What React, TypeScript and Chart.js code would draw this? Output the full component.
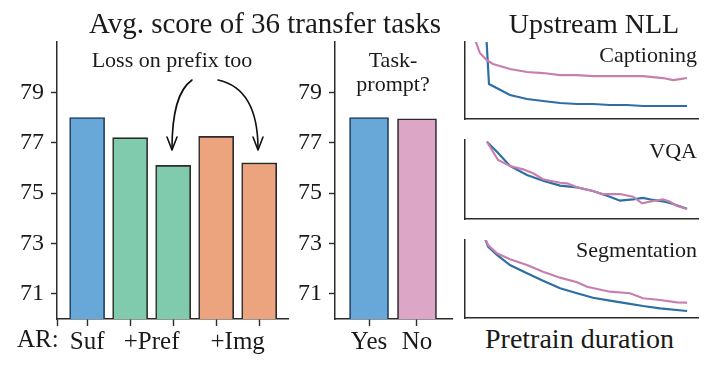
import React, { useEffect, useRef } from "react";
import { Chart, registerables } from "chart.js";

Chart.register(...registerables);

const FONT = "'Liberation Serif', 'Times New Roman', serif";
Chart.defaults.font.family = FONT;
Chart.defaults.color = "#1a1a1a";

// ---------- data ----------
const yTicks = [71, 73, 75, 77, 79];

const arPositions = [0, 1, 2, 3, 4];
const arValues = [78.0, 77.2, 76.1, 77.25, 76.2];
const arTickLabels = ["Suf", "+Pref", "+Img"];
const arTickLabelPositions = [0, 1.5, 3.5];

const promptCategories = ["Yes", "No"];
const promptValues = [78.0, 77.95];

// upstream NLL curves: [pretrain step (%), NLL (relative units)]
const captionBlue = [
  [9, 11.5], [10.3, 4.55], [19.3, 3.12], [26.6, 2.6], [33.5, 2.34], [40.8, 2.08],
  [48, 1.95], [55, 1.95], [62.2, 1.82], [69.5, 1.82], [76.4, 1.69], [83.7, 1.69], [95.3, 1.69],
];
const captionPink = [
  [4.3, 10.3], [6.4, 8.57], [9.3, 7.66], [12, 7.14], [19.3, 6.49], [26.6, 6.1], [33.5, 5.97],
  [40.8, 5.71], [48, 5.71], [55, 5.58], [62.2, 5.58], [69.5, 5.58], [76.4, 5.58], [80.7, 5.45],
  [85, 5.32], [89.3, 5.06], [92.3, 5.19], [95.3, 5.32],
];
const vqaBlue = [
  [9.4, 9.78], [13.7, 8.52], [19.3, 6.71], [26.6, 5.57], [33.5, 4.85], [40.8, 4.22], [48.1, 4.01],
  [54.9, 3.54], [62.2, 2.82], [66.5, 2.32], [72.1, 2.49], [76.4, 2.66], [80.7, 2.41], [85.0, 2.24],
  [89.3, 1.9], [95.3, 1.3],
];
const vqaPink = [
  [9.4, 9.78], [14.2, 7.47], [19.3, 6.71], [24.9, 6.29], [29.2, 5.78], [33.5, 5.03], [40.8, 4.59],
  [43.8, 4.52], [48.1, 4.01], [54.9, 3.54], [59.2, 3.16], [66.5, 3.16], [72.1, 2.82], [76.0, 1.99],
  [80.7, 2.28], [85.0, 2.49], [88.0, 2.19], [91.0, 1.65], [95.3, 1.27],
];
const segBlue = [
  [8.2, 10.5], [9.9, 9.14], [13.7, 8.08], [19.3, 6.79], [26.6, 5.73], [33.5, 4.78], [40.8, 3.81],
  [48.1, 3.17], [54.9, 2.6], [62.2, 2.22], [69.5, 1.88], [76.4, 1.54], [83.7, 1.24], [95.3, 0.9],
];
const segPink = [
  [8.2, 10.5], [9.9, 9.36], [13.7, 8.29], [19.3, 7.53], [26.6, 6.79], [33.5, 5.94], [40.8, 5.17],
  [48.1, 4.58], [52.4, 4.01], [62.2, 3.37], [70.8, 3.17], [76.4, 2.53], [83.7, 2.31], [91.0, 2.01],
  [95.3, 1.96],
];

// ---------- styles ----------
const AXIS = "#2b2b2b";
const BLUE = "#67a8d8";
const GREEN = "#80cbae";
const ORANGE = "#eca47f";
const PINK = "#dca6c6";
const BLUE_EDGE = "#1d3b5a";
const DARK_EDGE = "#2a2a2a";
const LINE_BLUE = "#2d6fa4";
const LINE_PINK = "#c77fae";

const zeroPad = (s: any) => {
  s.paddingTop = 0;
  s.paddingBottom = 0;
  s.paddingLeft = 0;
  s.paddingRight = 0;
};

function barConfig(opts: {
  xs: number[];
  ys: number[];
  colors: string[];
  edges: string[];
  xmin: number;
  xmax: number;
  tickPositions: number[];
  labelPositions: number[];
  labels: string[];
  yWidth: number;
  barPx: number;
}) {
  return {
    type: "bar",
    data: {
      datasets: [
        {
          data: opts.xs.map((x, i) => ({ x, y: opts.ys[i] })),
          backgroundColor: opts.colors,
          borderColor: opts.edges,
          borderWidth: 1.6,
          barThickness: opts.barPx,
        },
      ],
    },
    options: {
      animation: false,
      responsive: false,
      layout: { padding: { top: 12, right: 2, left: 0, bottom: 0 } },
      plugins: { legend: { display: false }, tooltip: { enabled: false } },
      scales: {
        x: {
          type: "linear",
          offset: false,
          min: opts.xmin,
          max: opts.xmax,
          afterBuildTicks: (s: any) => {
            const vals = Array.from(new Set([...opts.tickPositions, ...opts.labelPositions])).sort(
              (a, b) => a - b
            );
            s.ticks = vals.map((v) => ({ value: v }));
          },
          afterFit: (s: any) => {
            s.height = 40;
            zeroPad(s);
          },
          ticks: {
            autoSkip: false,
            maxRotation: 0,
            minRotation: 0,
            padding: 1,
            font: { size: 25, family: FONT },
            color: "#1a1a1a",
            callback: (v: number) => {
              const i = opts.labelPositions.indexOf(v);
              return i >= 0 ? opts.labels[i] : "";
            },
          },
          grid: {
            offset: false,
            drawOnChartArea: false,
            drawTicks: true,
            tickLength: 7,
            tickWidth: 1.4,
            tickColor: (ctx: any) =>
              ctx.tick && opts.tickPositions.includes(ctx.tick.value) ? AXIS : "rgba(0,0,0,0)",
          },
          border: { display: true, color: AXIS, width: 1.5 },
        },
        y: {
          type: "linear",
          min: 70,
          max: 81,
          afterBuildTicks: (s: any) => {
            s.ticks = yTicks.map((v) => ({ value: v }));
          },
          afterFit: (s: any) => {
            s.width = opts.yWidth;
            zeroPad(s);
          },
          ticks: { padding: 7, font: { size: 24, family: FONT }, color: "#1a1a1a" },
          grid: { drawOnChartArea: false, drawTicks: true, tickLength: 6, tickWidth: 1.4, tickColor: AXIS },
          border: { display: true, color: AXIS, width: 1.5 },
        },
      },
    },
  };
}

function lineConfig(blue: number[][], pink: number[][]) {
  const mk = (pts: number[][], color: string) => ({
    data: pts.map(([x, y]) => ({ x, y })),
    borderColor: color,
    borderWidth: 2.2,
    pointRadius: 0,
    fill: false,
    tension: 0,
  });
  return {
    type: "line",
    data: { datasets: [mk(pink, LINE_PINK), mk(blue, LINE_BLUE)] },
    options: {
      animation: false,
      responsive: false,
      layout: { padding: { top: 2, right: 2, left: 0, bottom: 0 } },
      plugins: { legend: { display: false }, tooltip: { enabled: false } },
      scales: {
        x: {
          type: "linear",
          min: 0,
          max: 100,
          ticks: { display: false },
          grid: { display: false },
          afterFit: (s: any) => {
            s.height = 2;
            zeroPad(s);
          },
          border: { display: true, color: AXIS, width: 1.5 },
        },
        y: {
          type: "linear",
          min: 0,
          max: 10,
          ticks: { display: false },
          grid: { display: false },
          afterFit: (s: any) => {
            s.width = 10;
            zeroPad(s);
          },
          border: { display: true, color: AXIS, width: 1.5 },
        },
      },
    },
  };
}

function ChartBox(props: { config: any; left: number; top: number; width: number; height: number }) {
  const ref = useRef<HTMLCanvasElement | null>(null);
  useEffect(() => {
    const c = new Chart(ref.current as HTMLCanvasElement, props.config);
    return () => c.destroy();
  }, []);
  return (
    <canvas
      ref={ref}
      width={props.width}
      height={props.height}
      style={{ position: "absolute", left: props.left, top: props.top, width: props.width, height: props.height }}
    />
  );
}

function Txt(props: { x: number; baseline: number; size: number; align?: "left" | "center" | "right"; children: any }) {
  const align = props.align || "left";
  const tx = align === "center" ? "translateX(-50%)" : align === "right" ? "translateX(-100%)" : "none";
  return (
    <div
      style={{
        position: "absolute",
        left: props.x,
        top: props.baseline - 0.8375 * props.size,
        fontSize: props.size,
        lineHeight: 1,
        fontFamily: FONT,
        color: "#1a1a1a",
        whiteSpace: "nowrap",
        transform: tx,
      }}
    >
      {props.children}
    </div>
  );
}

const arConfig = barConfig({
  xs: arPositions,
  ys: arValues,
  colors: [BLUE, GREEN, GREEN, ORANGE, ORANGE],
  edges: [BLUE_EDGE, DARK_EDGE, DARK_EDGE, DARK_EDGE, DARK_EDGE],
  xmin: -0.7,
  xmax: 4.67,
  tickPositions: [-0.7, ...arPositions],
  labelPositions: arTickLabelPositions,
  labels: arTickLabels,
  yWidth: 57,
  barPx: 35,
});

const promptConfig = barConfig({
  xs: [0, 1],
  ys: promptValues,
  colors: [BLUE, PINK],
  edges: [BLUE_EDGE, DARK_EDGE],
  xmin: -0.71,
  xmax: 1.73,
  tickPositions: [0, 1],
  labelPositions: [0, 1],
  labels: promptCategories,
  yWidth: 55,
  barPx: 39,
});

export default function App() {
  return (
    <div
      style={{
        position: "fixed",
        left: 0,
        top: 0,
        width: 721,
        height: 371,
        background: "#ffffff",
        overflow: "hidden",
      }}
    >
      <ChartBox config={arConfig} left={0} top={30} width={290} height={329} />
      <ChartBox config={promptConfig} left={280} top={30} width={174} height={329} />
      <ChartBox config={lineConfig(captionBlue, captionPink)} left={455} top={40} width={245} height={81} />
      <ChartBox config={lineConfig(vqaBlue, vqaPink)} left={455} top={138} width={245} height={83} />
      <ChartBox config={lineConfig(segBlue, segPink)} left={455} top={238} width={245} height={82} />

      <Txt x={265} baseline={33} size={29} align="center">Avg. score of 36 transfer tasks</Txt>
      <Txt x={594} baseline={33} size={28} align="center">Upstream NLL</Txt>
      <Txt x={172} baseline={67} size={22} align="center">Loss on prefix too</Txt>
      <Txt x={393} baseline={67} size={22} align="center">Task-</Txt>
      <Txt x={393} baseline={91} size={22} align="center">prompt?</Txt>
      <Txt x={697} baseline={62} size={22} align="right">Captioning</Txt>
      <Txt x={697} baseline={158} size={22} align="right">VQA</Txt>
      <Txt x={697} baseline={257} size={22} align="right">Segmentation</Txt>
      <Txt x={17} baseline={347} size={25}>AR:</Txt>
      <Txt x={485} baseline={348} size={28}>Pretrain duration</Txt>

      <svg
        width={721}
        height={371}
        style={{ position: "absolute", left: 0, top: 0, pointerEvents: "none" }}
      >
        <g fill="none" stroke="#111" strokeWidth={1.6} strokeLinecap="round" strokeLinejoin="round">
          <path d="M192,80 C178,90 172,112 172,149" />
          <path d="M167,137 L172,150 L177,137" />
          <path d="M218,80 C246,86 258,112 258,149" />
          <path d="M253,137 L258,150 L263,137" />
        </g>
      </svg>
    </div>
  );
}
